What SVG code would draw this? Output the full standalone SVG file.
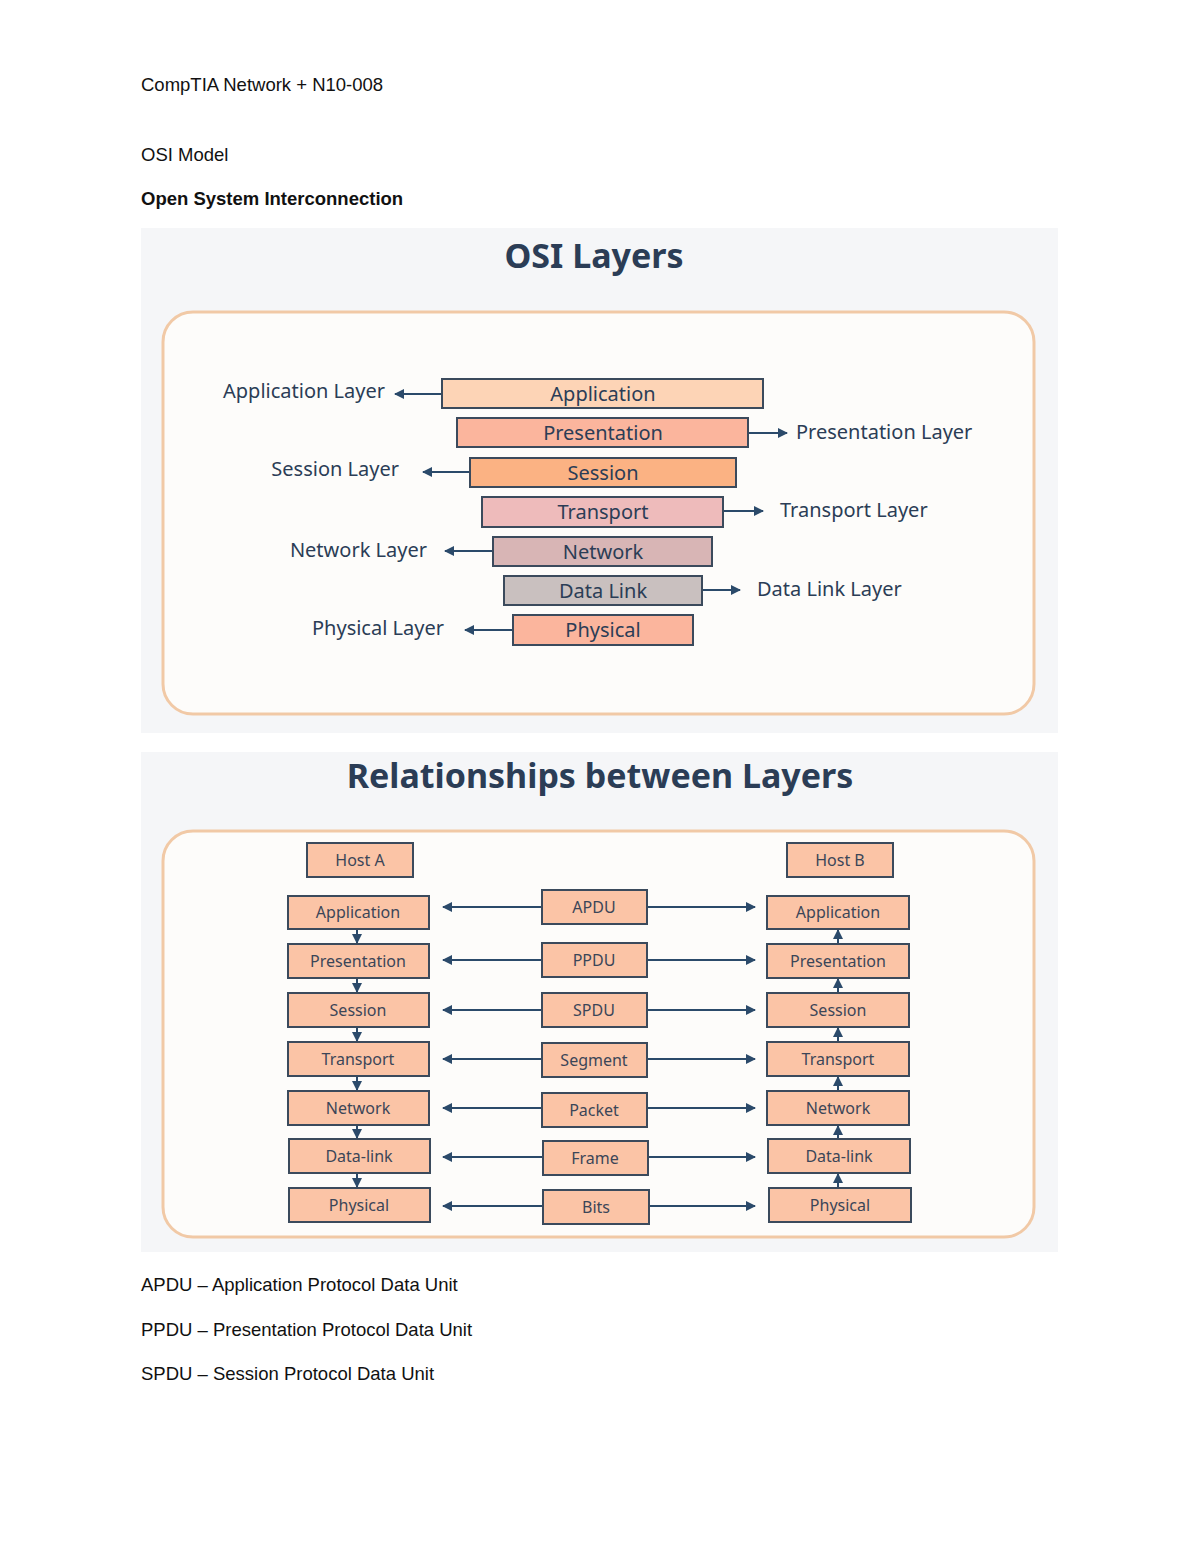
<svg xmlns="http://www.w3.org/2000/svg" width="1200" height="1553" viewBox="0 0 1200 1553">
<style>
.doc{font-family:"Liberation Sans",Arial,sans-serif;font-size:18.5px;fill:#111}
.t{font-family:"Noto Sans","DejaVu Sans",sans-serif;fill:#2b3d56}
.lbl{font-size:20px}
.bx{stroke:#3b4a5c;stroke-width:2}
.b2{fill:#fbc4a6;stroke:#3b4a5c;stroke-width:2}
.bt{font-family:"Noto Sans","DejaVu Sans",sans-serif;font-size:16px;fill:#3b4658;text-anchor:middle}
.c{stroke:#2b4a6a;stroke-width:2;fill:none}
</style>
<defs>
<marker id="ah" viewBox="0 0 10 10" refX="9" refY="5" markerWidth="5" markerHeight="5" orient="auto-start-reverse"><path d="M0,0L10,5L0,10z" fill="#2b4a6a"/></marker>
</defs>
<rect width="1200" height="1553" fill="#fff"/>
<text class="doc" x="141" y="91">CompTIA Network + N10-008</text>
<text class="doc" x="141" y="161">OSI Model</text>
<text class="doc" x="141" y="205" font-weight="bold" font-size="17.5">Open System Interconnection</text>

<rect x="141" y="228" width="917" height="505" fill="#f5f6f8"/>
<text class="t" x="594" y="268" font-size="34" font-weight="bold" text-anchor="middle" fill="#3d4a5c">OSI Layers</text>
<rect x="163" y="312" width="871" height="402" rx="30" fill="#fdfcfa" stroke="#f1c9a6" stroke-width="3"/>

<g class="c">
<path d="M442,394H395" marker-end="url(#ah)"/>
<path d="M470,472H423" marker-end="url(#ah)"/>
<path d="M493,551H445" marker-end="url(#ah)"/>
<path d="M513,630H465" marker-end="url(#ah)"/>
<path d="M748,433H787" marker-end="url(#ah)"/>
<path d="M723,511H763" marker-end="url(#ah)"/>
<path d="M702,590H740" marker-end="url(#ah)"/>
</g>
<g id="app"><rect class="bx" x="442" y="379" width="321" height="29" fill="#fdd4b6"/><text class="t lbl" x="603" y="401" text-anchor="middle">Application</text></g>
<g id="pres"><rect class="bx" x="457" y="418" width="291" height="29" fill="#fbb59d"/><text class="t lbl" x="603" y="440" text-anchor="middle">Presentation</text></g>
<g id="sess"><rect class="bx" x="470" y="458" width="266" height="29" fill="#fbb283"/><text class="t lbl" x="603" y="480" text-anchor="middle">Session</text></g>
<g id="trans"><rect class="bx" x="482" y="497" width="241" height="30" fill="#eebbbb"/><text class="t lbl" x="603" y="519" text-anchor="middle">Transport</text></g>
<g id="net"><rect class="bx" x="493" y="537" width="219" height="29" fill="#d8b5b5"/><text class="t lbl" x="603" y="559" text-anchor="middle">Network</text></g>
<g id="dl"><rect class="bx" x="504" y="576" width="198" height="29" fill="#c9c0bf"/><text class="t lbl" x="603" y="598" text-anchor="middle">Data Link</text></g>
<g id="phy"><rect class="bx" x="513" y="615" width="180" height="30" fill="#fbb59d"/><text class="t lbl" x="603" y="637" text-anchor="middle">Physical</text></g>
<text class="t lbl" x="385" y="398" text-anchor="end">Application Layer</text>
<text class="t lbl" x="399" y="476" text-anchor="end">Session Layer</text>
<text class="t lbl" x="427" y="557" text-anchor="end">Network Layer</text>
<text class="t lbl" x="444" y="635" text-anchor="end">Physical Layer</text>
<text class="t lbl" x="796" y="439">Presentation Layer</text>
<text class="t lbl" x="780" y="517">Transport Layer</text>
<text class="t lbl" x="757" y="596">Data Link Layer</text>

<rect x="141" y="752" width="917" height="500" fill="#f5f6f8"/>
<text class="t" x="600" y="788" font-size="34" font-weight="bold" text-anchor="middle" fill="#3d4a5c">Relationships between Layers</text>
<rect x="163" y="831" width="871" height="406" rx="30" fill="#fdfcfa" stroke="#f1c9a6" stroke-width="3"/>

<g id="connectors" class="c">
<path d="M542,907H443" marker-end="url(#ah)"/><path d="M647,907H755" marker-end="url(#ah)"/>
<path d="M542,960H443" marker-end="url(#ah)"/><path d="M647,960H755" marker-end="url(#ah)"/>
<path d="M542,1010H443" marker-end="url(#ah)"/><path d="M647,1010H755" marker-end="url(#ah)"/>
<path d="M542,1059H443" marker-end="url(#ah)"/><path d="M647,1059H755" marker-end="url(#ah)"/>
<path d="M542,1108H443" marker-end="url(#ah)"/><path d="M647,1108H755" marker-end="url(#ah)"/>
<path d="M542,1157H443" marker-end="url(#ah)"/><path d="M647,1157H755" marker-end="url(#ah)"/>
<path d="M542,1206H443" marker-end="url(#ah)"/><path d="M647,1206H755" marker-end="url(#ah)"/>
<path d="M357,929V943" marker-end="url(#ah)"/><path d="M357,978V992" marker-end="url(#ah)"/>
<path d="M357,1027V1041" marker-end="url(#ah)"/><path d="M357,1076V1090" marker-end="url(#ah)"/>
<path d="M357,1125V1138" marker-end="url(#ah)"/><path d="M357,1173V1187" marker-end="url(#ah)"/>
<path d="M838,944V930" marker-end="url(#ah)"/><path d="M838,993V979" marker-end="url(#ah)"/>
<path d="M838,1042V1028" marker-end="url(#ah)"/><path d="M838,1091V1077" marker-end="url(#ah)"/>
<path d="M838,1139V1126" marker-end="url(#ah)"/><path d="M838,1188V1174" marker-end="url(#ah)"/>
</g>

<g id="hostA"><rect class="b2" x="307" y="843" width="106" height="34"/><text class="bt" x="360" y="866">Host A</text></g>
<g id="hostB"><rect class="b2" x="787" y="843" width="106" height="34"/><text class="bt" x="840" y="866">Host B</text></g>

<g id="a1"><rect class="b2" x="288" y="896" width="141" height="33"/><text class="bt" x="358" y="918">Application</text></g>
<g id="a2"><rect class="b2" x="288" y="944" width="141" height="34"/><text class="bt" x="358" y="967">Presentation</text></g>
<g id="a3"><rect class="b2" x="288" y="993" width="141" height="34"/><text class="bt" x="358" y="1016">Session</text></g>
<g id="a4"><rect class="b2" x="288" y="1042" width="141" height="34"/><text class="bt" x="358" y="1065">Transport</text></g>
<g id="a5"><rect class="b2" x="288" y="1091" width="141" height="34"/><text class="bt" x="358" y="1114">Network</text></g>
<g id="a6"><rect class="b2" x="289" y="1139" width="141" height="34"/><text class="bt" x="359" y="1162">Data-link</text></g>
<g id="a7"><rect class="b2" x="289" y="1188" width="141" height="34"/><text class="bt" x="359" y="1211">Physical</text></g>

<g id="m1"><rect class="b2" x="542" y="890" width="105" height="34"/><text class="bt" x="594" y="913">APDU</text></g>
<g id="m2"><rect class="b2" x="542" y="943" width="105" height="34"/><text class="bt" x="594" y="966">PPDU</text></g>
<g id="m3"><rect class="b2" x="542" y="993" width="105" height="34"/><text class="bt" x="594" y="1016">SPDU</text></g>
<g id="m4"><rect class="b2" x="542" y="1043" width="105" height="34"/><text class="bt" x="594" y="1066">Segment</text></g>
<g id="m5"><rect class="b2" x="542" y="1093" width="105" height="34"/><text class="bt" x="594" y="1116">Packet</text></g>
<g id="m6"><rect class="b2" x="543" y="1141" width="105" height="34"/><text class="bt" x="595" y="1164">Frame</text></g>
<g id="m7"><rect class="b2" x="543" y="1190" width="106" height="34"/><text class="bt" x="596" y="1213">Bits</text></g>

<g id="b1"><rect class="b2" x="767" y="896" width="142" height="33"/><text class="bt" x="838" y="918">Application</text></g>
<g id="b2"><rect class="b2" x="767" y="944" width="142" height="34"/><text class="bt" x="838" y="967">Presentation</text></g>
<g id="b3"><rect class="b2" x="767" y="993" width="142" height="34"/><text class="bt" x="838" y="1016">Session</text></g>
<g id="b4"><rect class="b2" x="767" y="1042" width="142" height="34"/><text class="bt" x="838" y="1065">Transport</text></g>
<g id="b5"><rect class="b2" x="767" y="1091" width="142" height="34"/><text class="bt" x="838" y="1114">Network</text></g>
<g id="b6"><rect class="b2" x="768" y="1139" width="142" height="34"/><text class="bt" x="839" y="1162">Data-link</text></g>
<g id="b7"><rect class="b2" x="769" y="1188" width="142" height="34"/><text class="bt" x="840" y="1211">Physical</text></g>

<text class="doc" x="141" y="1291">APDU – Application Protocol Data Unit</text>
<text class="doc" x="141" y="1336">PPDU – Presentation Protocol Data Unit</text>
<text class="doc" x="141" y="1380">SPDU – Session Protocol Data Unit</text>
</svg>
